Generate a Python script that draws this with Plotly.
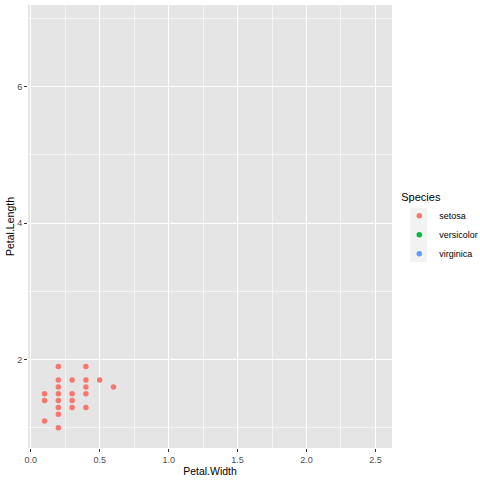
import plotly.graph_objects as go

# setosa points (petal width, petal length)
setosa_width = [0.1, 0.1, 0.1, 0.2, 0.2, 0.2, 0.2, 0.2, 0.2, 0.2, 0.2,
                0.3, 0.3, 0.3, 0.3, 0.4, 0.4, 0.4, 0.4, 0.4, 0.5, 0.6]
setosa_length = [1.1, 1.4, 1.5, 1.0, 1.2, 1.3, 1.4, 1.5, 1.6, 1.7, 1.9,
                 1.3, 1.4, 1.5, 1.7, 1.3, 1.5, 1.6, 1.7, 1.9, 1.7, 1.6]
species = ["setosa", "versicolor", "virginica"]
species_colors = ["#F8766D", "#00BA38", "#619CFF"]

# full data range of the axes (all species)
x_range = [0.1, 2.5]
y_range = [1.0, 6.9]


def expand(r, mult=0.05):
    pad = (r[1] - r[0]) * mult
    return [r[0] - pad, r[1] + pad]


fig = go.Figure()
fig.add_trace(go.Scatter(
    x=setosa_width, y=setosa_length, mode="markers", name=species[0],
    marker=dict(color=species_colors[0], size=5.5),
))
for name, col in zip(species[1:], species_colors[1:]):
    fig.add_trace(go.Scatter(
        x=[None], y=[None], mode="markers", name=name,
        marker=dict(color=col, size=5.5),
    ))

fig.update_layout(
    width=480, height=480,
    margin=dict(l=28, r=88, t=5, b=32, autoexpand=False),
    paper_bgcolor="white",
    plot_bgcolor="#E5E5E5",
    font=dict(family="Liberation Sans, Arial", color="black", size=11),
    legend=dict(
        title=dict(text="Species", font=dict(size=11)),
        x=1.02, xanchor="left", y=0.497, yanchor="middle",
        font=dict(size=9), bgcolor="rgba(0,0,0,0)",
        itemsizing="trace", tracegroupgap=0,
    ),
    shapes=[dict(
        type="rect", xref="paper", yref="paper",
        x0=1.05, x1=1.096, y0=0.42, y1=0.542,
        fillcolor="#F2F2F2", line=dict(width=0), layer="below",
    )],
)

axis_common = dict(
    showgrid=True, gridcolor="white", gridwidth=1.1,
    zeroline=False, showline=False, automargin=False,
    ticks="outside", ticklen=3, tickcolor="#333333",
    tickfont=dict(size=9, color="#4D4D4D"),
)
fig.update_xaxes(
    title=dict(text="Petal.Width", standoff=3, font=dict(size=10.5)),
    range=expand(x_range), tickvals=[0.0, 0.5, 1.0, 1.5, 2.0, 2.5],
    ticktext=["0.0", "0.5", "1.0", "1.5", "2.0", "2.5"],
    minor=dict(tickvals=[0.25, 0.75, 1.25, 1.75, 2.25], showgrid=True,
               gridcolor="#F5F5F5", gridwidth=0.5, ticks=""),
    **axis_common,
)
fig.update_yaxes(
    title=dict(text="Petal.Length", standoff=0, font=dict(size=10.5)),
    range=expand(y_range), tickvals=[2, 4, 6],
    minor=dict(tickvals=[1, 3, 5, 7], showgrid=True,
               gridcolor="#F5F5F5", gridwidth=0.5, ticks=""),
    **axis_common,
)

# the browser adds an 8px body margin; drop it so the 480x480 figure fits
fig.write_html("out.html", config={"displayModeBar": False},
               post_script="document.body.style.margin='0';")
